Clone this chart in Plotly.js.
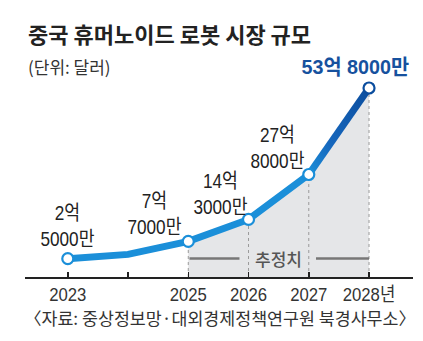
<!DOCTYPE html>
<html>
<head>
<meta charset="utf-8">
<script src="https://cdn.plot.ly/plotly-3.0.1.min.js"></script>
<style>
html,body{margin:0;padding:0;background:#fff;}
#chart{width:423px;height:341px;}
</style>
</head>
<body>
<div id="chart"></div>
<script>
// ---- data ----
const years = [2023, 2024, 2025, 2026, 2027, 2028];
const values = [2.5, 3.8, 7.7, 14.3, 27.8, 53.8];   // 억 달러
const tickLabels = ["2023", "", "2025", "2026", "2027", "2028년"];
const valueLabels = ["2억<br>5000만", "", "7억<br>7000만", "14억<br>3000만", "27억<br>8000만", "53억 8000만"];
const estimateStartIndex = 2;   // 2025 onward shaded
const estimateLabel = "추정치";
const titleText = "중국 휴머노이드 로봇 시장 규모";
const unitText = "(단위: 달러)";
const sourceText = "〈자료: 중상정보망·대외경제정책연구원 북경사무소〉";

// ---- layout constants ----
const W = 423, H = 341;
const M = {l: 25, r: 10, t: 80, b: 64};
const yRange = [-3.0, 56.2];
const xRange = [2022.29, 2028.73];
const PW = W - M.l - M.r, PH = H - M.t - M.b;
const px = x => (x - M.l) / PW;
const py = y => (H - M.b - y) / PH;

const NARROW = "'Liberation Sans', 'Noto Sans CJK KR', sans-serif";
const KR = "'Noto Sans CJK KR', 'Noto Sans', sans-serif";
const LIGHT = "#1b8fd9", DARK = "#0b4d9e", FILL = "#e5e6e8";

const estX = years.slice(estimateStartIndex);
const estY = values.slice(estimateStartIndex);

const traces = [];
// baseline for fill
traces.push({x: estX, y: estX.map(() => yRange[0]), mode: 'lines', line: {width: 0, color: FILL}, hoverinfo: 'skip', showlegend: false});
traces.push({x: estX, y: estY, mode: 'lines', line: {width: 0, color: FILL}, fill: 'tonexty', fillcolor: FILL, hoverinfo: 'skip', showlegend: false});
// dotted verticals
const dx = [], dy = [];
estX.forEach((x, i) => { dx.push(x, x, null); dy.push(yRange[0], estY[i], null); });
traces.push({x: dx, y: dy, mode: 'lines', line: {width: 1, color: '#9a9a9a', dash: 'dot'}, hoverinfo: 'skip', showlegend: false});
// main line (light part)
const n = years.length;
traces.push({x: years.slice(0, n - 1), y: values.slice(0, n - 1), mode: 'lines', line: {width: 7, color: LIGHT}, hoverinfo: 'skip', showlegend: false});
// last segment (gradient applied after render)
traces.push({x: years.slice(n - 2), y: values.slice(n - 2), mode: 'lines', line: {width: 7, color: DARK}, hoverinfo: 'skip', showlegend: false});
// markers (skip unlabeled year)
const mIdx = years.map((_, i) => i).filter(i => tickLabels[i] !== "");
traces.push({
  x: mIdx.map(i => years[i]), y: mIdx.map(i => values[i]), mode: 'markers',
  marker: {size: 11, color: '#ffffff', line: {width: 2.2, color: mIdx.map(i => i === n - 1 ? DARK : LIGHT)}},
  hoverinfo: 'skip', showlegend: false
});

// label offsets (pixels) relative to each point
const labelOffsets = [[0, 7], [0, 0], [-34, 1], [-28, -1], [-31, 1], [-14, 8]];
const annotations = [];
valueLabels.forEach((t, i) => {
  if (!t) return;
  const last = i === n - 1;
  annotations.push({
    x: years[i], y: values[i], xref: 'x', yref: 'y', text: t, showarrow: false,
    xanchor: 'center', yanchor: 'bottom', align: 'center',
    xshift: labelOffsets[i][0], yshift: labelOffsets[i][1],
    font: last ? {family: NARROW, size: 21, color: '#16519e', weight: 700} : {family: NARROW, size: 20, color: '#222'}
  });
});
const nValueAnn = annotations.length;
annotations.push({x: (estX[1] + estX[2]) / 2, y: 2.55, xref: 'x', yref: 'y', text: estimateLabel, showarrow: false,
  xanchor: 'center', yanchor: 'middle', font: {family: KR, size: 17, color: '#555', weight: 500}});
annotations.push({x: px(26), y: py(33), xref: 'paper', yref: 'paper', text: titleText, showarrow: false,
  xanchor: 'left', yanchor: 'middle', font: {family: KR, size: 22, color: '#222', weight: 700}});
annotations.push({x: px(26), y: py(66), xref: 'paper', yref: 'paper', text: unitText, showarrow: false,
  xanchor: 'left', yanchor: 'middle', font: {family: KR, size: 17, color: '#333'}});
annotations.push({x: px(22), y: py(317), xref: 'paper', yref: 'paper', text: sourceText, showarrow: false,
  xanchor: 'left', yanchor: 'middle', font: {family: KR, size: 17, color: '#333'}});

const shapes = [
  {type: 'line', xref: 'x', yref: 'y', x0: estX[0] + 0.02, x1: 2025.85, y0: 2.55, y1: 2.55, line: {color: '#777', width: 2.5}, layer: 'above'},
  {type: 'line', xref: 'x', yref: 'y', x0: 2027.12, x1: estX[estX.length - 1], y0: 2.55, y1: 2.55, line: {color: '#777', width: 2.5}, layer: 'above'}
];

const layout = {
  width: W, height: H, margin: M, paper_bgcolor: '#fff', plot_bgcolor: '#fff',
  showlegend: false,
  xaxis: {range: xRange, tickvals: years, ticktext: tickLabels, showgrid: false, zeroline: false,
    showline: true, linecolor: '#222', linewidth: 1.5, ticks: 'inside', ticklen: 5, tickwidth: 1.5, tickcolor: '#222',
    tickfont: {family: NARROW, size: 19, color: '#333'}, fixedrange: true},
  yaxis: {range: yRange, visible: false, fixedrange: true},
  annotations, shapes
};

function squeeze(el, s) {
  const b = el.getBBox();
  const cx = b.x + b.width / 2;
  const t = el.getAttribute('transform') || '';
  el.setAttribute('transform', t + ' translate(' + cx + ',0) scale(' + s + ',1) translate(' + (-cx) + ',0)');
}

Plotly.newPlot('chart', traces, layout, {staticPlot: true, displayModeBar: false}).then(gd => {
  const svg = gd.querySelector('svg.main-svg');
  const ns = 'http://www.w3.org/2000/svg';
  let defs = svg.querySelector('defs');
  const grad = document.createElementNS(ns, 'linearGradient');
  grad.setAttribute('id', 'segGrad');
  grad.setAttribute('x1', '0'); grad.setAttribute('y1', '1');
  grad.setAttribute('x2', '1'); grad.setAttribute('y2', '0');
  [['0', LIGHT], ['0.35', '#1667bd'], ['1', DARK]].forEach(([o, c]) => {
    const s = document.createElementNS(ns, 'stop');
    s.setAttribute('offset', o); s.setAttribute('stop-color', c);
    grad.appendChild(s);
  });
  defs.appendChild(grad);
  const traceGroups = gd.querySelectorAll('g.scatterlayer g.trace');
  const seg = traceGroups[4].querySelector('path.js-line');
  if (seg) seg.style.stroke = 'url(#segGrad)';

  // condensed look for numeric labels
  const annTexts = gd.querySelectorAll('g.annotation text.annotation-text');
  annTexts.forEach((el, i) => { if (i < nValueAnn) squeeze(el, i === nValueAnn - 1 ? 0.94 : 0.86); });
  gd.querySelectorAll('g.xtick text').forEach(el => squeeze(el, 0.88));
  const srcEl = annTexts[annTexts.length - 1];
  if (srcEl) {
    const b = srcEl.getBBox();
    const t = srcEl.getAttribute('transform') || '';
    srcEl.setAttribute('transform', t + ' translate(' + b.x + ',0) scale(1.02,1) translate(' + (-b.x) + ',0)');
  }
});
</script>
</body>
</html>
